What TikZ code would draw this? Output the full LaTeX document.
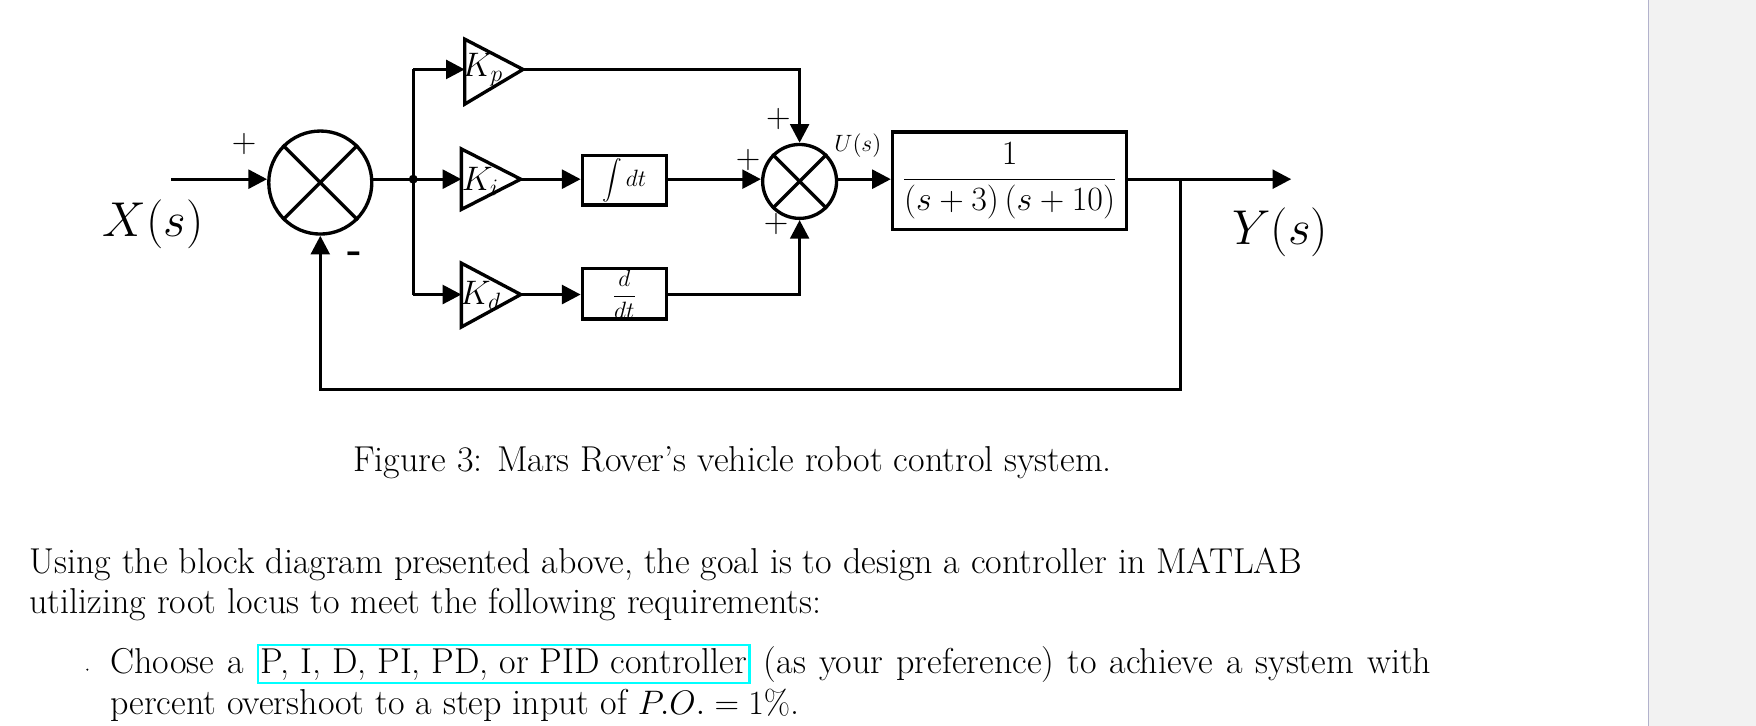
\documentclass[tikz,border=0pt]{standalone}
\usetikzlibrary{arrows.meta}
\definecolor{aqua}{RGB}{0,255,255}
\begin{document}
\begin{tikzpicture}[x=0.02cm,y=-0.02cm,
  ln/.style={line width=1.7pt},
  arr/.style={ln,-{Triangle[length=9.5pt,width=9.5pt]}},
  txt/.style={font=\fontsize{18.3}{22}\selectfont,inner sep=0pt,anchor=base west},
  lbl/.style={font=\fontsize{18}{21}\selectfont,inner sep=0pt},
  big/.style={font=\fontsize{24}{28}\selectfont,inner sep=0pt}]
\useasboundingbox (0,0) rectangle (1568,648);
\fill[white] (0,0) rectangle (1568,648);
\fill[gray!10] (1472,0) rectangle (1568,648);
\draw[blue!20!gray!50,line width=0.8pt] (1472,0) -- (1472,648);
% sums
\node[draw,ln,circle,minimum size=92*0.02cm,inner sep=0] (s1) at (286,163) {};
\draw[ln] (s1.45) -- (s1.225) (s1.135) -- (s1.315);
\node[draw,ln,circle,minimum size=66*0.02cm,inner sep=0] (s2) at (714,162) {};
\draw[ln] (s2.45) -- (s2.225) (s2.135) -- (s2.315);
% gains
\coordinate (br) at (369,160);
\coordinate (bt) at (369,62);
\coordinate (bb) at (369,263);
\draw[ln,fill=white] (415,35) -- (467,62) -- (415,93) -- cycle;
\draw[ln,fill=white] (412,133) -- (465,160) -- (412,187) -- cycle;
\draw[ln,fill=white] (412,235) -- (465,263) -- (412,292) -- cycle;
\node[lbl] (kp) at (431,62) {$K_p$};
\node[lbl] (ki) at (429,162) {$K_i$};
\node[lbl] (kd) at (429,264) {$K_d$};
\coordinate (kpi) at (415,62); \coordinate (kpo) at (467,62);
\coordinate (kii) at (412,160); \coordinate (kio) at (465,160);
\coordinate (kdi) at (412,263); \coordinate (kdo) at (465,263);
\node[draw,ln,minimum width=75*0.02cm,minimum height=44*0.02cm,inner sep=0pt,font=\fontsize{13}{15}\selectfont] (int) at (557.5,161) {$\displaystyle\int dt$};
\node[draw,ln,minimum width=75*0.02cm,minimum height=45*0.02cm,inner sep=0pt,font=\fontsize{13}{15}\selectfont] (der) at (557.5,262.5) {$\displaystyle\frac{d}{dt}$};
\node[draw,ln,minimum width=209*0.02cm,minimum height=87*0.02cm,font=\fontsize{18}{21}\selectfont] (tf) at (901.5,161.5) {$\displaystyle\frac{1}{(s+3)\,(s+10)}$};
% connectors
\coordinate (xin) at (153,160);
\draw[arr] (xin) -- (s1.west |- xin);
\draw[ln] (s1.east |- br) -- (br);
\fill (br) circle (4);
\draw[ln] (bt) -- (bb);
\draw[arr] (bt) -- (kpi);
\draw[arr] (br) -- (kii);
\draw[arr] (bb) -- (kdi);
\draw[arr] (kio) -- (int.west |- kio);
\draw[arr] (kdo) -- (der.west |- kdo);
\draw[arr] (kpo) -- (714,62) -- (s2.north);
\draw[arr] (int.east |- 0,160) -- (s2.west |- 0,160);
\draw[arr] (der.east |- kdo) -- (714,263) -- (s2.south);
\draw[arr] (s2.east |- 0,160) -- (tf.west |- 0,160);
\coordinate (yout) at (1153,160);
\coordinate (fb) at (1054,160);
\draw[arr] (tf.east |- yout) -- (yout);
\draw[arr] (fb) -- (1054,348) -- (286,348) -- (s1.south);
% labels
\node[big] (xs) at (137,200) {$X(s)$};
\node[big] (ys) at (1143,207) {$Y(s)$};
\node[lbl] (p1) at (218,129) {$+$};
\node[lbl,font=\bfseries\fontsize{20}{20}\selectfont] (m1) at (317,230) {-};
\node[lbl] (p2) at (695,106) {$+$};
\node[lbl] (p3) at (668,143) {$+$};
\node[lbl] (p4) at (693,200) {$+$};
\node[lbl,font=\fontsize{13}{15}\selectfont] (us) at (766,130) {$U(s)$};
% text
\node[txt] (cap) at (315,421) {Figure 3: Mars Rover's vehicle robot control system.};
\node[txt] (l1) at (26,512) {Using the block diagram presented above, the goal is to design a controller in MATLAB};
\node[txt] (l2) at (26,548) {utilizing root locus to meet the following requirements:};
\fill (78,598) circle (1);
\node[txt] (l3) at (98,601) {\makebox[23.6cm][s]{Choose a \tikz[baseline=(c.base)]\node[draw=aqua,line width=1.3pt,inner sep=1.5pt] (c) {P, I, D, PI, PD, or PID controller};{} (as your preference) to achieve a system with}};
\node[txt] (l4) at (98,638) {percent overshoot to a step input of $P.O. = 1\%$.};
\end{tikzpicture}
\end{document}
